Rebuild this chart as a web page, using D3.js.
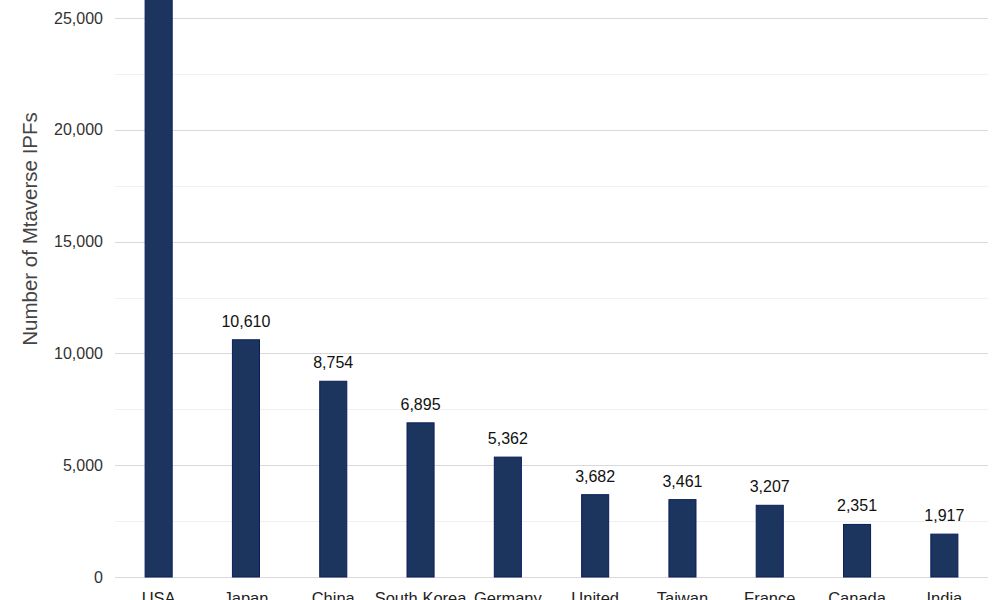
<!DOCTYPE html>
<html>
<head>
<meta charset="utf-8">
<script src="https://cdn.jsdelivr.net/npm/d3@7"></script>
<style>
  html, body { margin: 0; padding: 0; background: #fff; }
  svg { display: block; font-family: "Liberation Sans", Arial, Helvetica, sans-serif; }
</style>
</head>
<body>
<div id="chart"></div>
<script>
// Data (USA bar runs past the top edge)
const countries = ["USA", "Japan", "China", "South Korea", "Germany",
  "United Kingdom", "Taiwan", "France", "Canada", "India"];
const ipfCounts = [29500, 10610, 8754, 6895, 5362, 3682, 3461, 3207, 2351, 1917];
const yTicks = [0, 5000, 10000, 15000, 20000, 25000];
const gridValues = [0, 2500, 5000, 7500, 10000, 12500, 15000, 17500, 20000, 22500, 25000];

const width = 1000;
const height = 600;
const margin = { top: 18, right: 12, bottom: 23, left: 115 };

const svg = d3.select("#chart")
  .append("svg")
  .attr("width", width)
  .attr("height", height);

const x = d3.scaleBand()
  .domain(countries)
  .range([margin.left, width - margin.right])
  .paddingInner(0.69)
  .paddingOuter(0.345);

const y = d3.scaleLinear()
  .domain([0, 25000])
  .range([height - margin.bottom, margin.top]);

// Gridlines: major every 5,000, lighter minor in between
svg.append("g")
  .selectAll("line")
  .data(gridValues)
  .join("line")
  .attr("x1", margin.left)
  .attr("x2", width - margin.right)
  .attr("y1", (d) => Math.round(y(d)) + 0.5)
  .attr("y2", (d) => Math.round(y(d)) + 0.5)
  .style("stroke", (d) => (d % 5000 === 0 ? "#d9d9d9" : "#f0f0f0"))
  .style("stroke-width", "1px");

// Y axis tick labels
const yAxis = d3.axisLeft(y)
  .tickValues(yTicks)
  .tickFormat(d3.format(","))
  .tickSize(0)
  .tickPadding(12);

svg.append("g")
  .attr("transform", `translate(${margin.left}, 0)`)
  .call(yAxis)
  .call((g) => g.select(".domain").remove())
  .call((g) => g.selectAll("text")
    .style("font-size", "16px")
    .style("fill", "#333")
    .style("font-family", "inherit"));

// Axis title
svg.append("text")
  .attr("transform", `translate(37, 229) rotate(-90)`)
  .attr("text-anchor", "middle")
  .text("Number of Mtaverse IPFs")
  .style("font-size", "20.5px")
  .style("fill", "#444");

// Bars
svg.append("g")
  .selectAll("rect")
  .data(countries)
  .join("rect")
  .attr("x", (d) => x(d))
  .attr("y", (d, i) => y(ipfCounts[i]))
  .attr("width", x.bandwidth())
  .attr("height", (d, i) => y(0) - y(ipfCounts[i]))
  .style("fill", "#1b355f")
  .style("stroke", "#0c1c5e")
  .style("stroke-width", "1px");

// Value labels
svg.append("g")
  .selectAll("text")
  .data(countries)
  .join("text")
  .attr("x", (d) => x(d) + x.bandwidth() / 2)
  .attr("y", (d, i) => y(ipfCounts[i]) - 13)
  .attr("text-anchor", "middle")
  .text((d, i) => d3.format(",")(ipfCounts[i]))
  .style("font-size", "16px")
  .style("fill", "#111");

// Category labels (wrapped)
const xLabels = svg.append("g")
  .selectAll("text")
  .data(countries)
  .join("text")
  .attr("x", (d) => x(d) + x.bandwidth() / 2)
  .attr("y", height - margin.bottom + 27)
  .attr("text-anchor", "middle")
  .style("font-size", "16.5px")
  .style("fill", "#222");

xLabels.each(function (d) {
  const words = d === "United Kingdom" ? ["United", "Kingdom"] : [d];
  const t = d3.select(this);
  words.forEach((w, i) => {
    t.append("tspan")
      .attr("x", t.attr("x"))
      .attr("dy", i === 0 ? 0 : "1.2em")
      .text(w);
  });
});
</script>
</body>
</html>
